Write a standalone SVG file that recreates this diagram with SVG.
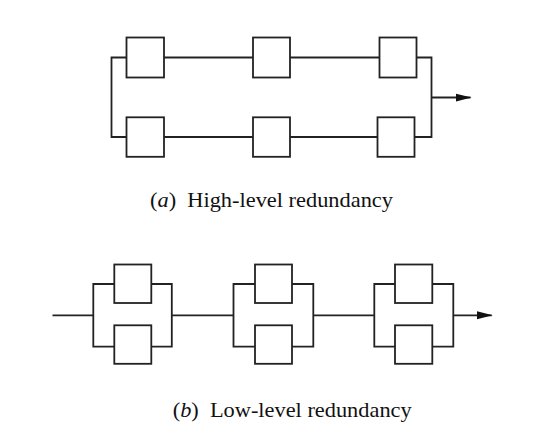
<svg xmlns="http://www.w3.org/2000/svg" width="534" height="436" viewBox="0 0 534 436">
<style>
.box{fill:#fff;stroke:#222;stroke-width:1.8}
.wire{fill:none;stroke:#222;stroke-width:1.8}
.cap{font-family:"Liberation Serif","Times New Roman",serif;font-size:22px;fill:#111}
</style>
<defs>
<marker id="arr" markerWidth="16" markerHeight="10" refX="15" refY="5" orient="auto" markerUnits="userSpaceOnUse">
<path d="M0,1 L16,5 L0,9 Z" fill="#111"/>
</marker>
</defs>
<rect width="534" height="436" fill="#fff"/>
<g id="connectors">
<!-- (a) -->
<path class="wire" d="M126.5,57.5 H111.5 V137 H126.5"/>
<path class="wire" d="M164,57.5 H253"/>
<path class="wire" d="M290,57.5 H379.5"/>
<path class="wire" d="M416.5,57.5 H431.5 V137 H414.5"/>
<path class="wire" d="M164,137 H253"/>
<path class="wire" d="M290,137 H377.5"/>
<path class="wire" d="M431.5,97.5 H470.5" marker-end="url(#arr)"/>
<!-- (b) -->
<path class="wire" d="M52.5,315.3 H93.3"/>
<path class="wire" d="M114.3,284 H93.3 V346.7 H114.3"/>
<path class="wire" d="M151.3,284 H171.8 V346.7 H151.3"/>
<path class="wire" d="M171.8,315.3 H233.5"/>
<path class="wire" d="M255,284 H233.5 V346.7 H255"/>
<path class="wire" d="M292,284 H313.3 V346.7 H292"/>
<path class="wire" d="M313.3,315.3 H374.3"/>
<path class="wire" d="M395,284 H374.3 V346.7 H395"/>
<path class="wire" d="M432.3,284 H453.3 V346.7 H432.3"/>
<path class="wire" d="M453.3,315.3 H491.7" marker-end="url(#arr)"/>
</g>
<g id="a-top-1"><rect class="box" x="126.5" y="37.5" width="37.5" height="40"/></g>
<g id="a-top-2"><rect class="box" x="253" y="37.5" width="37" height="40"/></g>
<g id="a-top-3"><rect class="box" x="379.5" y="37.5" width="37" height="40"/></g>
<g id="a-bot-1"><rect class="box" x="126.5" y="117.3" width="37.5" height="39.5"/></g>
<g id="a-bot-2"><rect class="box" x="253" y="117.3" width="37" height="39.5"/></g>
<g id="a-bot-3"><rect class="box" x="377.5" y="117.3" width="37" height="39.5"/></g>
<g id="b-1-top"><rect class="box" x="114.3" y="264.5" width="37" height="38.5"/></g>
<g id="b-1-bot"><rect class="box" x="114.3" y="325.3" width="37" height="38.5"/></g>
<g id="b-2-top"><rect class="box" x="255" y="264.5" width="37" height="38.5"/></g>
<g id="b-2-bot"><rect class="box" x="255" y="325.3" width="37" height="38.5"/></g>
<g id="b-3-top"><rect class="box" x="395" y="264.5" width="37.3" height="38.5"/></g>
<g id="b-3-bot"><rect class="box" x="395" y="325.3" width="37.3" height="38.5"/></g>
<g id="captions">
<text class="cap" x="150" y="207" xml:space="preserve" textLength="243" lengthAdjust="spacingAndGlyphs">(<tspan font-style="italic">a</tspan>)  High-level redundancy</text>
<text class="cap" x="172.7" y="416.7" xml:space="preserve" textLength="239" lengthAdjust="spacingAndGlyphs">(<tspan font-style="italic">b</tspan>)  Low-level redundancy</text>
</g>
</svg>
